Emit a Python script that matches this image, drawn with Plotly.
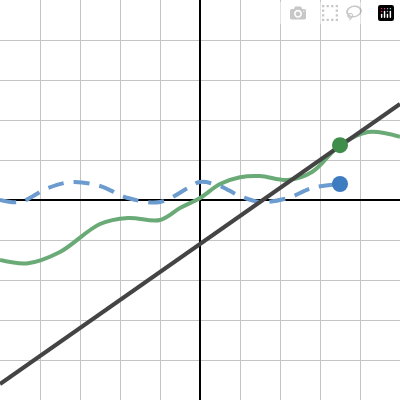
import plotly.graph_objects as go

line_x = [-5, 5]
line_y = [-4.6, 2.4]

green_x = [-5, -4.3, -3.5, -2.5, -1.8, -1, -0.5, 0, 0.5, 1, 1.5, 2.2, 2.8, 3.5, 4.2, 5]
green_y = [-1.5, -1.58, -1.3, -0.6, -0.45, -0.5, -0.2, 0.05, 0.4, 0.57, 0.6, 0.5, 0.7, 1.37, 1.7, 1.58]

blue_x = [-5, -4.5, -3.8, -3.2, -2.5, -1.8, -1, -0.3, 0, 0.5, 1, 1.5, 2.2, 2.8, 3.5]
blue_y = [0, -0.05, 0.3, 0.45, 0.35, 0.05, -0.05, 0.3, 0.45, 0.35, 0.1, -0.05, 0.05, 0.3, 0.4]

green_pt = (3.5, 1.37)
blue_pt = (3.5, 0.4)

fig = go.Figure()
fig.add_trace(go.Scatter(x=green_x, y=green_y, mode="lines", line=dict(color="#6aaa76", width=4, shape="spline")))
fig.add_trace(go.Scatter(x=blue_x, y=blue_y, mode="lines", line=dict(color="#6b9bcf", width=4, dash="16px,10px", shape="spline")))
fig.add_trace(go.Scatter(x=line_x, y=line_y, mode="lines", line=dict(color="#444444", width=4)))
fig.add_trace(go.Scatter(x=[green_pt[0]], y=[green_pt[1]], mode="markers", marker=dict(color="#3e8e4a", size=16)))
fig.add_trace(go.Scatter(x=[blue_pt[0]], y=[blue_pt[1]], mode="markers", marker=dict(color="#3d7cc0", size=16)))

ax = dict(range=[-5, 5], dtick=1, showgrid=True, gridcolor="#c4c4c4", gridwidth=1,
          zeroline=True, zerolinecolor="black", zerolinewidth=2, showticklabels=False, fixedrange=True)
fig.update_layout(width=400, height=400, margin=dict(l=0, r=0, t=0, b=0), showlegend=False,
                  plot_bgcolor="white", paper_bgcolor="white", xaxis=ax, yaxis=ax)
fig.write_html("out.html", post_script="document.body.style.margin='0';")
